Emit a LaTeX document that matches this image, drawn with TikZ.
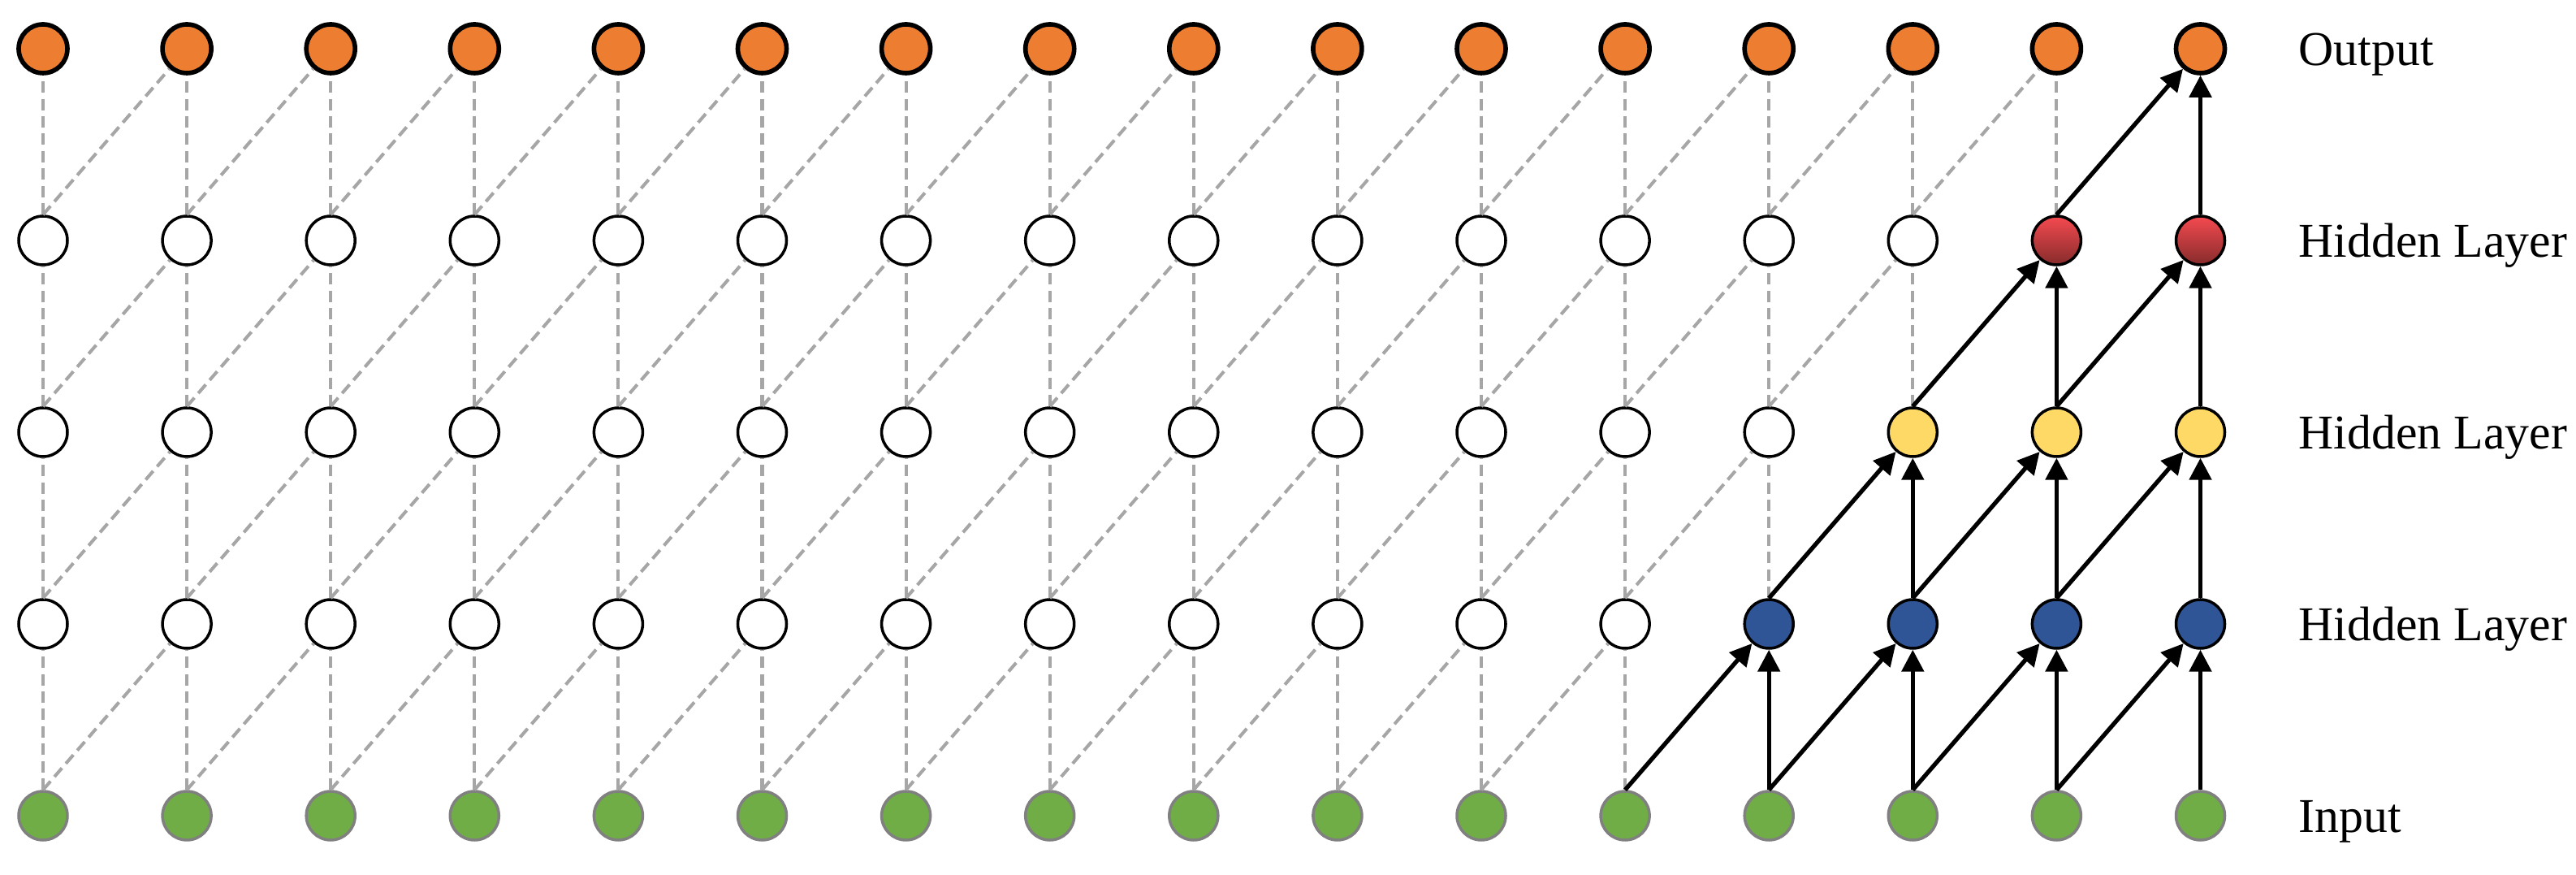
\documentclass[tikz,border=0pt]{standalone}
\usepackage{fontspec}
\setmainfont{Liberation Serif}
\usepackage{tikz}
\usetikzlibrary{arrows.meta}

\definecolor{outorange}{HTML}{ED7D31}
\definecolor{inpgreen}{HTML}{70AD47}
\definecolor{inpborder}{HTML}{808080}
\definecolor{hidblue}{HTML}{2F5597}
\definecolor{hidyellow}{HTML}{FFD966}
\definecolor{hidredtop}{HTML}{F54A50}
\definecolor{hidredbot}{HTML}{862B2B}
\definecolor{skipgray}{HTML}{A6A6A6}

\begin{document}
\begin{tikzpicture}
  \tikzstyle{unit}=[circle, minimum size=6mm, inner sep=0pt]
  \tikzstyle{inputunit}=[unit, draw=inpborder, line width=1pt, fill=inpgreen]
  \tikzstyle{hiddenunit}=[unit, draw=black, line width=1pt, fill=white]
  \tikzstyle{blueunit}=[unit, draw=black, line width=1pt, fill=hidblue]
  \tikzstyle{yellowunit}=[unit, draw=black, line width=1pt, fill=hidyellow]
  \tikzstyle{redunit}=[unit, draw=black, line width=1pt, top color=hidredtop, bottom color=hidredbot]
  \tikzstyle{outputunit}=[unit, draw=black, line width=1.6pt, fill=outorange]
  \tikzstyle{skip}=[draw=skipgray, line width=1.15pt, dash pattern=on 4pt off 2.1pt]
  \tikzstyle{pass}=[draw=black, line width=1.5pt, -{Triangle[length=2.7mm,width=2.7mm]}]
  \tikzstyle{layername}=[anchor=base west, inner sep=0pt, font=\fontsize{17pt}{20pt}\selectfont]

  \useasboundingbox (0,0) rectangle (31.72,10.77);

  % input and output rows
  \foreach \i in {0,...,15} {
    \node[inputunit] (n-0-\i) at (0.53+1.771*\i, 0.73) {};
    \node[outputunit] (n-4-\i) at (0.53+1.771*\i, 10.17) {};
  }

  % hidden rows, the last columns are coloured
  \foreach \r/\act in {1/blueunit, 2/yellowunit, 3/redunit}
    \foreach \i in {0,...,15} {
      \ifnum\i>\numexpr10+\r\relax
        \node[\act] (n-\r-\i) at (0.53+1.771*\i, 0.73+2.36*\r) {};
      \else
        \node[hiddenunit] (n-\r-\i) at (0.53+1.771*\i, 0.73+2.36*\r) {};
      \fi
    }

  % connections
  \foreach \r in {0,...,3} {
    \pgfmathtruncatemacro{\up}{\r+1}
    \foreach \i in {0,...,15} {
      \pgfmathtruncatemacro{\nx}{\i+1}
      \ifnum\i<\numexpr12+\r\relax
        \draw[skip] (n-\r-\i.north) -- (n-\up-\i);
      \else
        \draw[pass] (n-\r-\i.north) -- (n-\up-\i);
      \fi
      \ifnum\i<15
        \ifnum\nx<\numexpr12+\r\relax
          \draw[skip] (n-\r-\i.north) -- (n-\up-\nx);
        \else
          \draw[pass] (n-\r-\i.north) -- (n-\up-\nx);
        \fi
      \fi
    }
  }

  % layer names
  \foreach \r/\txt in {0/Input, 1/Hidden Layer, 2/Hidden Layer, 3/Hidden Layer, 4/Output}
    \node[layername] (name-\r) at (28.30, 0.52+2.36*\r) {\txt};
\end{tikzpicture}
\end{document}
